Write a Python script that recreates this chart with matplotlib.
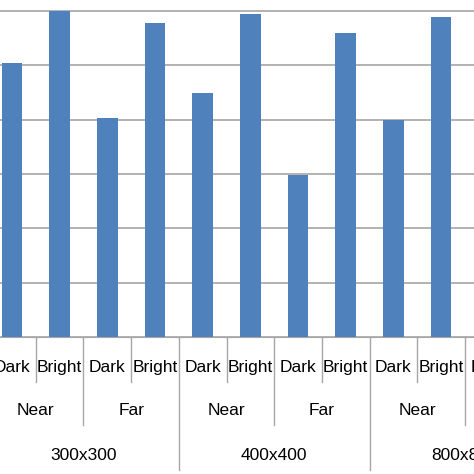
import matplotlib.pyplot as plt
import matplotlib.transforms as mtransforms

plt.rcParams['font.family'] = ['Liberation Sans', 'DejaVu Sans']

# bar values (last two are off-canvas in the reference)
values = [5.05, 6.0, 4.03, 5.78, 4.5, 5.95, 2.98, 5.59, 4.0, 5.9, 4.2, 5.8]
light = ['Dark', 'Bright'] * 6
distance = ['Near', 'Far'] * 3
sizes = ['300x300', '400x400', '800x800']

fig = plt.figure(figsize=(4.74, 4.74), dpi=100)
ax = fig.add_axes([0, 0.289, 1, 0.711])

x = range(len(values))
ax.bar(x, values, width=0.43, color='#4F81BD', zorder=3)
ax.set_xlim(-0.25, 9.69)
ax.set_ylim(0, 6.206)
ax.set_yticks(range(0, 7))
ax.yaxis.grid(True, color='#A6A6A6', linewidth=1.2, zorder=0)
ax.set_xticks([])
ax.tick_params(left=False, labelleft=False)
for s in ['top', 'left', 'right']:
    ax.spines[s].set_visible(False)
ax.spines['bottom'].set_color('#A6A6A6')

trans = mtransforms.blended_transform_factory(ax.transData, ax.transAxes)
# separator line depths in axes fraction (axes height = 337 px)
depth = {1: -45 / 337, 2: -88 / 337, 3: -133 / 337}
line_kw = dict(transform=trans, color='#A6A6A6', linewidth=1, clip_on=False)

fs = 12.5
for i, lab in enumerate(light):
    ax.text(i, -30 / 337, lab, transform=trans, ha='center', va='center',
            fontsize=fs, clip_on=False)
for i in range(len(light)):
    b = i + 0.5
    lvl = 3 if (i + 1) % 4 == 0 else (2 if (i + 1) % 2 == 0 else 1)
    ax.plot([b, b], [0, depth[lvl]], **line_kw)
for j, lab in enumerate(distance * 2):
    ax.text(2 * j + 0.5, -73 / 337, lab, transform=trans, ha='center',
            va='center', fontsize=fs, clip_on=False)
for k, lab in enumerate(sizes):
    ax.text(4 * k + 1.5, -118 / 337, lab, transform=trans, ha='center',
            va='center', fontsize=fs, clip_on=False)

fig.savefig('out.png', dpi=100)
